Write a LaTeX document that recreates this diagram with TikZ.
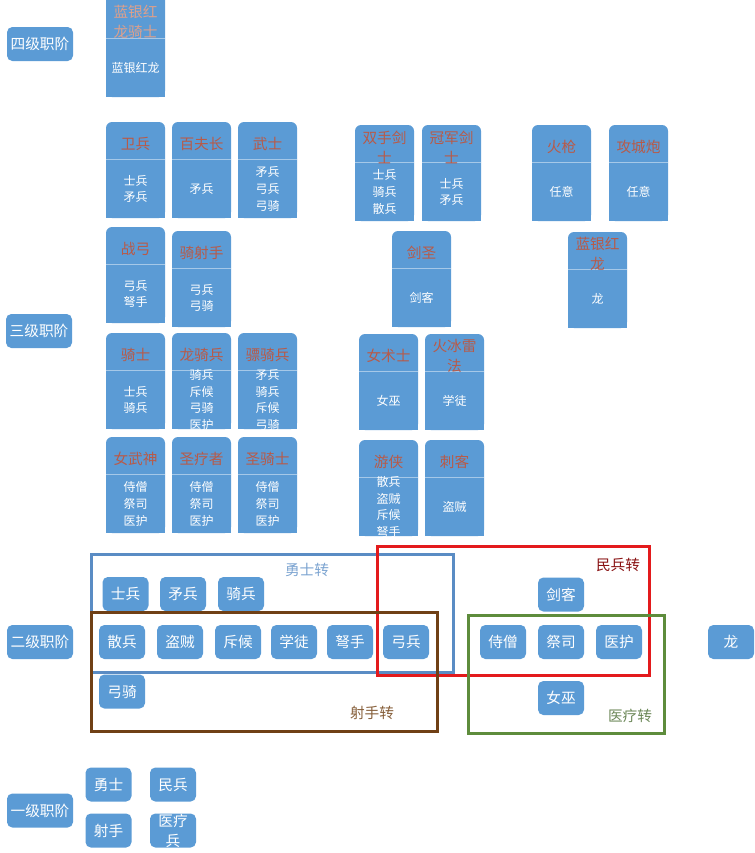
\documentclass[tikz,border=0pt]{standalone}
\usepackage{fontspec}
\setmainfont{Noto Sans CJK SC}
\usetikzlibrary{positioning}
\definecolor{boxblue}{HTML}{5B9BD5}
\definecolor{titlered}{HTML}{B85A48}
\definecolor{titlepale}{HTML}{DDA08C}
\definecolor{yongblue}{HTML}{5A8CC4}
\definecolor{minred}{HTML}{E31A1C}
\definecolor{sheBrown}{HTML}{704015}
\definecolor{yigreen}{HTML}{5E8C3C}

\begin{document}
\begin{tikzpicture}[x=0.75pt,y=-0.75pt,
  rank/.style={fill=boxblue,rounded corners=4pt,minimum width=49.5pt,minimum height=25.5pt,
    inner sep=0pt,text=white,font=\fontsize{11}{14}\selectfont},
  unit/.style={fill=boxblue,rounded corners=4pt,minimum width=34.5pt,minimum height=25.5pt,
    inner sep=0pt,text=white,align=center,font=\fontsize{11}{15}\selectfont},
  cardtitle/.style={text=titlered,align=center,inner sep=0pt,font=\fontsize{11}{15}\selectfont},
  cardtext/.style={text=white,align=center,inner sep=0pt,font=\fontsize{9}{12.5}\selectfont},
  divider/.style={boxblue!55!white,line width=0.4pt},
  frame/.style={line width=2.25pt},
  framelabel/.style={inner sep=0pt,font=\fontsize{11}{14}\selectfont}]

\useasboundingbox (0,0) rectangle (755,853);

% tier labels
\node[rank] (tier4) at (40,44) {四级职阶};
\node[rank] (tier3) at (39,331) {三级职阶};
\node[rank] (tier2) at (40,642) {二级职阶};
\node[rank] (tier1) at (40,810.5) {一级职阶};

% tier 4 card
\fill[boxblue,rounded corners=4.5pt] (106,-10) rectangle ++(59,107);
\fill[boxblue] (106,48) rectangle ++(59,49);
\draw[divider] (106,38) -- ++(59,0);
\node[cardtitle,text=titlepale] (lyhlqs) at (135.5,22) {蓝银红\\龙骑士};
\node[cardtext] (lyhlqs-b) at (135.5,68) {蓝银红龙};

% tier 3 cards
\foreach \nm/\x/\y/\ti/\bd in {
  weibing/106/122/{卫兵}/{士兵\\矛兵},
  baifuzhang/172/122/{百夫长}/{矛兵},
  wushi/238/122/{武士}/{矛兵\\弓兵\\弓骑},
  shuangshou/355/125/{双手剑\\士}/{士兵\\骑兵\\散兵},
  guanjun/422/125/{冠军剑\\士}/{士兵\\矛兵},
  huoqiang/532/125/{火枪}/{任意},
  gongcheng/609/125/{攻城炮}/{任意},
  zhangong/106/227/{战弓}/{弓兵\\弩手},
  qisheshou/172/231/{骑射手}/{弓兵\\弓骑},
  jiansheng/392/231/{剑圣}/{剑客},
  lyhl/568/232/{蓝银红\\龙}/{龙},
  qishi/106/333/{骑士}/{士兵\\骑兵},
  longqibing/172/333/{龙骑兵}/{骑兵\\斥候\\弓骑\\医护},
  piaoqibing/238/333/{骠骑兵}/{矛兵\\骑兵\\斥候\\弓骑},
  nvshushi/359/334/{女术士}/{女巫},
  huobing/425/334/{火冰雷\\法}/{学徒},
  nvwushen/106/437/{女武神}/{侍僧\\祭司\\医护},
  shengliao/172/437/{圣疗者}/{侍僧\\祭司\\医护},
  shengqishi/238/437/{圣骑士}/{侍僧\\祭司\\医护},
  youxia/359/440/{游侠}/{散兵\\盗贼\\斥候\\弩手},
  cike/425/440/{刺客}/{盗贼}}
{
  \fill[boxblue,rounded corners=4.5pt] (\x,\y) rectangle ++(59,96);
  \fill[boxblue] (\x,\y+48) rectangle ++(59,48);
  \draw[divider] (\x,\y+37) -- ++(59,0);
  \node[cardtitle] (\nm) at (\x+29.5,\y+22) {\ti};
  \node[cardtext] (\nm-b) at (\x+29.5,\y+67) {\bd};
}

% tier 2 units
\foreach \nm/\x/\y/\tx in {
  shibing/125.5/594/士兵, maobing/183/594/矛兵, qibing/241/594/骑兵,
  sanbing/122/642/散兵, daozei/180/642/盗贼, chihou/238/642/斥候,
  xuetu/294/642/学徒, nushou/350/642/弩手, gongbing/406/642/弓兵,
  gongqi/122/691.5/弓骑, jianke/561/594.5/剑客,
  shiseng/503/642/侍僧, jisi/561/642/祭司, yihu/619/642/医护,
  nvwu/561/698/女巫, long/731/642/龙}
  \node[unit] (\nm) at (\x,\y) {\tx};

% class change frames
\draw[frame,yongblue] (91,554) rectangle (453,672);
\draw[frame,minred] (377,546) rectangle (649,675);
\draw[frame,sheBrown] (91,612) rectangle (437,731);
\draw[frame,yigreen] (468,615) rectangle (664,733);
\node[framelabel,text=yongblue!80!white] (yongzhuan) at (307,570) {勇士转};
\node[framelabel,text=minred!60!black] (minzhuan) at (618,565) {民兵转};
\node[framelabel,text=sheBrown!85!white] (shezhuan) at (372,713) {射手转};
\node[framelabel,text=yigreen!60!gray] (yizhuan) at (630,716) {医疗转};

% tier 1 units
\node[unit] (yongshi) at (108.5,784.5) {勇士};
\node[unit] (minbing) at (173,784.5) {民兵};
\node[unit] (sheshou) at (108.5,830.5) {射手};
\node[unit] (yiliao) at (173,830.5) {医疗\\兵};

\end{tikzpicture}
\end{document}
